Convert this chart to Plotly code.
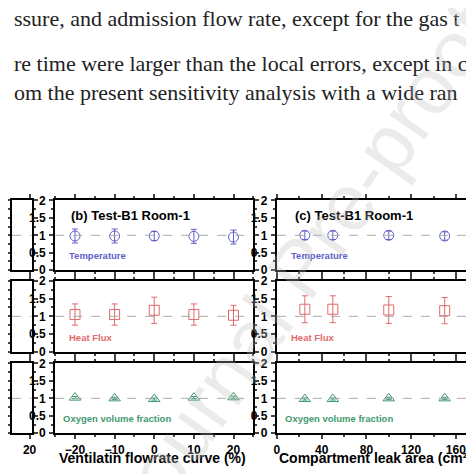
import plotly.graph_objects as go

# panel (b): ventilation flowrate change (%)
vent_x = [-20, -10, 0, 10, 20]
vent_temp = [0.98, 0.98, 0.98, 0.97, 0.95]
vent_temp_err = [0.2, 0.2, 0.13, 0.2, 0.2]
vent_heat = [1.05, 1.05, 1.17, 1.05, 1.03]
vent_heat_err = [0.3, 0.3, 0.37, 0.3, 0.28]
vent_o2 = [1.02, 1.0, 0.98, 1.02, 1.03]
vent_o2_err = [0.03, 0.03, 0.03, 0.03, 0.03]

# panel (c): compartment leak area (cm2)
leak_x = [25, 50, 100, 150]
leak_temp = [1.0, 1.0, 1.0, 0.98]
leak_temp_err = [0.12, 0.12, 0.12, 0.12]
leak_heat = [1.2, 1.2, 1.18, 1.16]
leak_heat_err = [0.38, 0.38, 0.38, 0.37]
leak_o2 = [0.98, 0.98, 1.0, 1.0]
leak_o2_err = [0.03, 0.03, 0.03, 0.03]

series_names = ["Temperature", "Heat Flux", "Oxygen volume fraction"]
colors = ["#6060c8", "#e06a6a", "#3f9a70"]
symbols = ["circle-open", "square-open", "triangle-up-open"]

text_lines = [
    "ssure, and admission flow rate, except for the gas t",
    "re time were larger than the local errors, except in c",
    "om the present sensitivity analysis with a wide ran",
]
text_y_px = [4, 50, 80]

W = 474
rows_px = [(191, 263), (274, 347), (359, 431)]
cols_px = [(-30, 20), (44, 246), (270, 473)]
x_ranges = [[-5, 20.5], [-25, 25], [0, 178]]

fig = go.Figure()
layout = {}
shapes = []
annotations = []
font = "Liberation Sans, Arial"

n = 0
for c, (x0, x1) in enumerate(cols_px):
    for r, (y0, y1) in enumerate(rows_px):
        n += 1
        xa = "xaxis" if n == 1 else f"xaxis{n}"
        ya = "yaxis" if n == 1 else f"yaxis{n}"
        xr = "x" if n == 1 else f"x{n}"
        yr = "y" if n == 1 else f"y{n}"
        dom_x = [max(x0, 0) / W, x1 / W]
        dom_y = [1 - y1 / W, 1 - y0 / W]
        if c == 0:
            xrange = [20.5 - x1 / 4.07, 20.5]
        else:
            xrange = x_ranges[c]
        dtick = 10 if c < 2 else 40
        layout[xa] = dict(domain=dom_x, range=xrange, anchor=yr, showgrid=False, zeroline=False,
                          showline=True, linecolor="black", linewidth=2, mirror="allticks",
                          ticks="outside", ticklen=4, tickwidth=1.5, dtick=dtick,
                          tick0=0, minor=dict(ticks="outside", ticklen=2, dtick=dtick / 2),
                          showticklabels=(r == 2),
                          tickfont=dict(family=font, size=12, color="black", weight="bold"))
        layout[ya] = dict(domain=dom_y, range=[0, 2], anchor=xr, showgrid=False, zeroline=False,
                          showline=True, linecolor="black", linewidth=2, mirror="allticks",
                          ticks="outside", ticklen=4, tickwidth=1.5,
                          tickvals=[0, 0.5, 1, 1.5, 2], ticktext=["0", "0.5", "1", "1.5", "2"],
                          minor=dict(ticks="outside", ticklen=2, dtick=0.25), ticklabelstandoff=1,
                          showticklabels=(c > 0),
                          tickfont=dict(family=font, size=12, color="black", weight="bold"))
        shapes.append(dict(type="line", xref=f"{xr} domain", yref=yr, x0=0, x1=1, y0=1, y1=1,
                           line=dict(color="#aaaaaa", width=1, dash="dash")))
        if c == 0:
            continue
        xs = vent_x if c == 1 else leak_x
        data = [(vent_temp, vent_temp_err), (vent_heat, vent_heat_err), (vent_o2, vent_o2_err)] if c == 1 else \
               [(leak_temp, leak_temp_err), (leak_heat, leak_heat_err), (leak_o2, leak_o2_err)]
        ys, es = data[r]
        fig.add_trace(go.Scatter(x=xs, y=ys, xaxis=xr, yaxis=yr, mode="markers", showlegend=False,
                                 marker=dict(symbol=symbols[r], size=10, color=colors[r], line=dict(width=1)),
                                 error_y=dict(type="data", array=es, color=colors[r], thickness=1, width=3)))
        annotations.append(dict(text=f"<b>{series_names[r]}</b>", xref=f"{xr} domain", yref=f"{yr} domain",
                                x=0.06 if r < 2 else 0.03, y=0.1, xanchor="left", yanchor="bottom", showarrow=False,
                                font=dict(family=font, size=9.5, color=colors[r])))
        if r == 0:
            annotations.append(dict(text="<b>(%s) Test-B1 Room-1</b>" % ("b" if c == 1 else "c"),
                                    xref=f"{xr} domain", yref=f"{yr} domain", x=0.07 if c == 1 else 0.08, y=0.92,
                                    xanchor="left", yanchor="top", showarrow=False,
                                    font=dict(family=font, size=13, color="black")))

annotations.append(dict(text="<b>Ventilatin flowrate curve (%)</b>", xref="paper", yref="paper",
                        x=143 / W, y=1 - 456 / W, xanchor="center", yanchor="middle", showarrow=False,
                        font=dict(family=font, size=14, color="black")))
annotations.append(dict(text="<b>Compartment leak area (cm²)</b>", xref="paper", yref="paper",
                        x=371 / W, y=1 - 456 / W, xanchor="center", yanchor="middle", showarrow=False,
                        font=dict(family=font, size=14, color="black")))
for line, ypx in zip(text_lines, text_y_px):
    annotations.append(dict(text=line, xref="paper", yref="paper", x=0, y=1 - ypx / W,
                            xanchor="left", yanchor="middle", showarrow=False,
                            font=dict(family="Liberation Serif, Times New Roman", size=22, color="#222222")))
annotations.append(dict(text="Journal Pre-proof", xref="paper", yref="paper", x=0.62, y=0.45,
                        textangle=-55, showarrow=False,
                        font=dict(family=font, size=80, color="rgba(190,190,190,0.3)")))

fig.update_layout(width=W, height=W, margin=dict(l=0, r=0, t=0, b=0), plot_bgcolor="white",
                  paper_bgcolor="white", shapes=shapes, annotations=annotations, **layout)
fig.write_html("out.html")
